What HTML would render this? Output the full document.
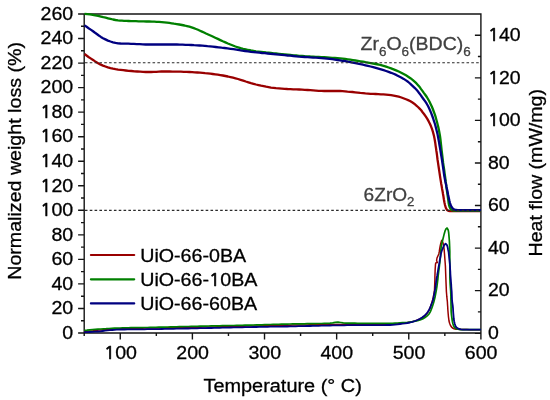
<!DOCTYPE html>
<html><head><meta charset="utf-8"><title>TGA / DSC of UiO-66</title>
<style>
html,body{margin:0;padding:0;background:#fff;}
body{width:550px;height:400px;overflow:hidden;}
svg{display:block;}
text{font-family:"Liberation Sans",sans-serif;font-size:19.1px;fill:#000;stroke:#000;stroke-width:0.3px;}
.g{fill:#404040;stroke:#404040;}
.sub{font-size:13.2px;}
.n1{font-family:"NanumGothic","Liberation Sans",sans-serif;font-size:17.9px;stroke-width:0.7px;}
.ax{stroke:#141414;stroke-width:1.4;fill:none;}
.c{fill:none;stroke-width:2.3;stroke-linejoin:round;stroke-linecap:butt;}
.h{fill:none;stroke-width:1.5;stroke-linejoin:round;stroke-linecap:butt;}
</style></head><body>
<svg width="550" height="400" viewBox="0 0 550 400">
<rect width="550" height="400" fill="#fff"/>
<path class="ax" d="M84.2,14.0V333.0H480.9V14.0Z M78.1,333.00H84.2 M81.0,320.73H84.2 M78.1,308.46H84.2 M81.0,296.19H84.2 M78.1,283.92H84.2 M81.0,271.65H84.2 M78.1,259.38H84.2 M81.0,247.12H84.2 M78.1,234.85H84.2 M81.0,222.58H84.2 M78.1,210.31H84.2 M81.0,198.04H84.2 M78.1,185.77H84.2 M81.0,173.50H84.2 M78.1,161.23H84.2 M81.0,148.96H84.2 M78.1,136.69H84.2 M81.0,124.42H84.2 M78.1,112.15H84.2 M81.0,99.88H84.2 M78.1,87.62H84.2 M81.0,75.35H84.2 M78.1,63.08H84.2 M81.0,50.81H84.2 M78.1,38.54H84.2 M81.0,26.27H84.2 M78.1,14.00H84.2 M84.20,333.0V336.0 M120.26,333.0V339.5 M156.33,333.0V336.0 M192.39,333.0V339.5 M228.45,333.0V336.0 M264.52,333.0V339.5 M300.58,333.0V336.0 M336.65,333.0V339.5 M372.71,333.0V336.0 M408.77,333.0V339.5 M444.84,333.0V336.0 M480.90,333.0V339.5 M474.9,333.20H480.9 M477.9,311.92H480.9 M474.9,290.64H480.9 M477.9,269.36H480.9 M474.9,248.08H480.9 M477.9,226.80H480.9 M474.9,205.52H480.9 M477.9,184.24H480.9 M474.9,162.96H480.9 M477.9,141.68H480.9 M474.9,120.40H480.9 M477.9,99.12H480.9 M474.9,77.84H480.9 M477.9,56.56H480.9 M474.9,35.28H480.9"/>
<path class="c" stroke="#990000" d="M84.5,54.0 L86.5,55.5 L88.5,57.0 L90.6,58.4 L92.7,59.8 L95.2,61.4 L97.7,62.9 L100.3,64.4 L103.0,65.6 L105.4,66.5 L107.9,67.4 L110.5,68.1 L113.0,68.7 L115.5,69.2 L118.1,69.6 L120.7,69.9 L123.2,70.2 L125.8,70.5 L128.7,70.8 L131.5,71.0 L134.4,71.3 L137.2,71.5 L140.1,71.7 L143.0,71.9 L145.8,72.0 L148.7,72.0 L151.2,72.0 L153.8,71.9 L156.3,71.8 L158.9,71.6 L161.4,71.5 L164.0,71.5 L166.8,71.5 L169.6,71.5 L172.5,71.6 L175.3,71.6 L178.1,71.7 L180.9,71.7 L183.8,71.8 L186.6,71.9 L189.4,72.0 L192.1,72.1 L194.7,72.3 L197.4,72.5 L200.0,72.7 L202.5,72.9 L205.1,73.2 L207.6,73.4 L210.2,73.7 L212.7,74.0 L215.2,74.3 L217.8,74.7 L220.3,75.1 L222.9,75.5 L225.4,76.0 L227.9,76.5 L230.5,77.1 L233.0,77.7 L235.5,78.3 L238.0,79.0 L240.6,79.8 L243.2,80.6 L245.8,81.5 L248.4,82.3 L251.0,83.1 L253.5,83.8 L256.0,84.5 L258.5,85.1 L261.1,85.7 L263.6,86.2 L266.1,86.7 L268.5,87.1 L271.0,87.6 L273.5,87.9 L276.0,88.2 L278.9,88.4 L281.8,88.6 L284.6,88.8 L287.5,89.0 L290.4,89.1 L293.3,89.3 L296.2,89.4 L299.1,89.5 L302.0,89.7 L304.8,89.9 L307.6,90.0 L310.3,90.2 L313.1,90.4 L315.9,90.6 L318.7,90.8 L321.4,90.9 L324.2,91.0 L327.0,91.0 L329.6,91.0 L332.2,91.0 L334.8,91.0 L337.4,91.0 L340.0,91.0 L342.5,91.1 L345.0,91.3 L347.5,91.6 L350.0,91.8 L352.6,92.0 L355.1,92.3 L357.7,92.6 L360.3,92.9 L362.9,93.1 L365.4,93.4 L368.0,93.6 L370.6,93.8 L373.1,93.9 L375.7,94.0 L378.3,94.1 L380.9,94.3 L383.4,94.4 L386.0,94.6 L388.6,94.9 L391.1,95.2 L393.7,95.6 L396.2,96.1 L398.7,96.7 L401.4,97.5 L404.0,98.5 L406.0,99.3 L408.1,100.1 L410.0,101.0 L412.1,102.3 L414.2,103.7 L416.1,105.3 L418.0,107.0 L419.6,108.6 L421.2,110.3 L422.6,112.2 L424.0,114.0 L425.7,116.4 L427.3,118.9 L428.7,121.4 L430.0,124.0 L431.0,126.3 L431.9,128.7 L432.7,131.1 L433.4,133.6 L434.0,136.0 L434.5,138.4 L434.9,140.8 L435.3,143.2 L435.6,145.6 L436.0,148.0 L436.3,150.4 L436.7,152.8 L437.0,155.2 L437.3,157.6 L437.6,160.0 L438.0,162.7 L438.4,165.3 L438.8,168.0 L439.2,170.7 L439.6,173.3 L440.0,176.0 L440.4,178.6 L440.8,181.1 L441.2,183.7 L441.7,186.3 L442.1,188.9 L442.6,191.4 L443.0,194.0 L443.5,196.8 L443.9,199.5 L444.4,202.3 L445.0,205.0 L445.8,207.8 L447.0,210.0 L448.3,210.8 L450.0,211.2 L452.7,211.2 L455.4,211.2 L458.1,211.2 L460.9,211.2 L463.6,211.2 L466.4,211.2 L469.2,211.2 L472.1,211.2 L475.0,211.2 L477.9,211.2 L480.9,211.2"/>
<path class="c" stroke="#008000" d="M84.5,13.8 L87.3,14.1 L90.0,14.4 L92.7,14.8 L95.3,15.3 L98.2,15.9 L101.0,16.6 L103.3,17.2 L105.7,17.7 L108.0,18.3 L110.5,18.9 L113.0,19.5 L115.5,20.0 L118.0,20.4 L120.0,20.6 L122.0,20.7 L124.0,20.8 L126.3,20.9 L128.7,21.0 L131.0,21.1 L133.5,21.2 L136.0,21.2 L138.6,21.3 L141.1,21.3 L143.6,21.4 L146.4,21.5 L149.2,21.5 L152.0,21.6 L154.3,21.7 L156.7,21.8 L159.0,21.9 L161.7,22.1 L164.3,22.3 L167.0,22.6 L169.3,22.9 L171.7,23.3 L174.0,23.7 L176.7,24.1 L179.3,24.5 L182.0,25.0 L184.5,25.5 L187.0,26.1 L189.4,26.7 L191.6,27.4 L193.8,28.2 L196.0,29.0 L198.0,29.8 L200.0,30.7 L202.0,31.6 L204.0,32.5 L206.0,33.5 L208.2,34.5 L210.5,35.5 L212.7,36.5 L215.2,37.7 L217.8,38.9 L220.3,40.1 L222.8,41.3 L225.4,42.4 L227.9,43.5 L230.4,44.5 L232.9,45.5 L235.4,46.5 L238.0,47.3 L240.6,48.1 L243.1,48.8 L245.8,49.4 L248.4,50.0 L251.0,50.5 L253.5,50.9 L256.0,51.3 L258.5,51.6 L261.1,51.9 L263.6,52.2 L266.1,52.5 L268.6,52.7 L271.0,53.0 L273.5,53.3 L276.0,53.5 L278.9,53.8 L281.8,54.1 L284.7,54.4 L287.5,54.7 L290.4,55.0 L293.3,55.3 L296.2,55.5 L299.1,55.8 L302.0,56.0 L304.8,56.2 L307.6,56.3 L310.3,56.5 L313.1,56.6 L315.9,56.8 L318.7,56.9 L321.4,57.1 L324.2,57.2 L327.0,57.4 L329.6,57.6 L332.2,57.8 L334.9,58.0 L337.5,58.2 L340.1,58.4 L342.7,58.7 L345.2,59.0 L347.8,59.3 L350.3,59.7 L352.9,60.1 L355.4,60.5 L357.9,60.9 L360.4,61.3 L363.0,61.7 L365.5,62.2 L368.0,62.6 L370.6,63.1 L373.2,63.5 L375.8,64.0 L378.4,64.5 L381.0,65.1 L383.6,65.8 L386.1,66.6 L388.6,67.5 L391.1,68.4 L393.6,69.4 L396.1,70.4 L398.7,71.5 L401.2,72.7 L403.6,74.0 L406.0,75.3 L408.2,76.7 L410.4,78.2 L412.6,79.9 L414.6,81.6 L416.5,83.4 L418.1,85.2 L419.7,87.1 L421.1,89.1 L422.6,91.1 L424.0,93.1 L425.4,95.0 L426.8,97.0 L428.0,99.0 L429.4,101.5 L430.7,104.2 L431.9,106.8 L433.0,109.5 L433.9,112.0 L434.8,114.4 L435.6,116.9 L436.3,119.5 L437.0,122.0 L437.7,124.8 L438.4,127.6 L439.0,130.4 L439.5,133.2 L440.0,136.0 L440.4,138.8 L440.7,141.6 L441.0,144.4 L441.3,147.2 L441.6,150.0 L441.9,152.5 L442.2,155.0 L442.5,157.5 L442.8,160.0 L443.1,162.7 L443.5,165.3 L443.9,168.0 L444.3,170.7 L444.6,173.3 L445.0,176.0 L445.4,178.8 L445.7,181.5 L446.1,184.3 L446.4,187.0 L446.8,189.8 L447.2,192.5 L447.6,195.3 L448.0,198.0 L448.3,200.3 L448.6,202.7 L449.0,204.9 L449.6,207.0 L450.7,209.1 L452.4,210.4 L454.1,210.5 L456.0,210.6 L458.8,210.6 L461.5,210.6 L464.3,210.6 L467.1,210.6 L469.8,210.6 L472.6,210.6 L475.4,210.6 L478.1,210.6 L480.9,210.6"/>
<path class="c" stroke="#000080" d="M84.5,25.4 L86.6,26.8 L88.6,28.2 L90.7,29.6 L92.7,31.0 L94.7,32.5 L96.8,34.0 L98.8,35.5 L100.9,36.9 L103.0,38.2 L105.4,39.4 L107.9,40.6 L110.5,41.5 L113.0,42.3 L115.5,42.9 L118.0,43.3 L120.6,43.5 L123.2,43.6 L125.8,43.6 L128.4,43.7 L131.0,43.8 L133.9,43.9 L136.9,44.1 L139.8,44.2 L142.8,44.4 L145.7,44.5 L148.7,44.5 L151.5,44.5 L154.3,44.5 L157.1,44.5 L159.9,44.5 L162.8,44.5 L165.6,44.5 L168.4,44.5 L171.2,44.5 L174.0,44.5 L176.9,44.5 L179.8,44.6 L182.6,44.6 L185.5,44.8 L188.4,44.9 L191.3,45.0 L194.1,45.2 L197.0,45.3 L199.6,45.5 L202.2,45.7 L204.9,45.9 L207.5,46.2 L210.1,46.4 L212.7,46.7 L215.7,47.0 L218.6,47.3 L221.6,47.7 L224.6,48.0 L227.5,48.4 L230.5,48.8 L233.4,49.2 L236.4,49.6 L239.3,50.1 L242.2,50.6 L245.1,51.0 L248.1,51.4 L251.0,51.8 L253.8,52.1 L256.5,52.4 L259.3,52.7 L262.1,53.0 L264.9,53.2 L267.7,53.5 L270.4,53.8 L273.2,54.0 L276.0,54.3 L278.9,54.6 L281.8,54.9 L284.7,55.2 L287.6,55.5 L290.4,55.7 L293.3,56.0 L296.2,56.3 L299.1,56.6 L302.0,56.8 L304.8,57.0 L307.6,57.2 L310.3,57.4 L313.1,57.6 L315.9,57.7 L318.7,57.9 L321.5,58.1 L324.2,58.3 L327.0,58.6 L329.6,58.9 L332.2,59.2 L334.9,59.6 L337.5,60.0 L340.1,60.4 L342.7,60.8 L345.2,61.2 L347.8,61.7 L350.3,62.1 L352.9,62.6 L355.4,63.1 L357.9,63.6 L360.5,64.2 L363.0,64.7 L365.5,65.3 L368.0,65.9 L370.6,66.5 L373.2,67.2 L375.8,67.9 L378.4,68.6 L381.0,69.4 L383.6,70.2 L386.1,71.0 L388.6,71.9 L391.1,72.8 L393.6,73.8 L396.2,74.9 L398.7,76.2 L401.2,77.5 L403.7,78.9 L406.0,80.4 L408.3,82.0 L410.4,83.8 L412.5,85.8 L414.6,87.8 L416.5,89.8 L418.0,91.5 L419.3,93.3 L420.7,95.1 L422.0,97.0 L423.6,99.2 L425.2,101.4 L426.7,103.7 L428.0,106.0 L429.1,108.3 L430.2,110.7 L431.2,113.1 L432.1,115.5 L433.0,118.0 L433.9,120.8 L434.8,123.5 L435.6,126.4 L436.3,129.2 L437.0,132.0 L437.6,134.6 L438.1,137.3 L438.6,140.0 L439.1,142.6 L439.5,145.3 L440.0,148.0 L440.4,150.4 L440.8,152.8 L441.2,155.2 L441.6,157.6 L442.0,160.0 L442.4,162.8 L442.8,165.6 L443.2,168.4 L443.6,171.2 L444.0,174.0 L444.4,176.6 L444.9,179.2 L445.4,181.7 L446.0,184.3 L446.5,186.9 L447.1,189.4 L447.6,192.0 L448.1,194.8 L448.7,197.6 L449.3,200.3 L450.0,203.0 L451.0,205.9 L452.4,208.2 L454.0,209.4 L456.0,210.0 L457.9,210.1 L460.0,210.2 L462.0,210.2 L464.7,210.2 L467.4,210.2 L470.1,210.2 L472.8,210.2 L475.5,210.2 L478.2,210.2 L480.9,210.2"/>
<path class="h" stroke="#990000" d="M84.2,331.5 L87.1,331.2 L90.0,330.9 L92.9,330.7 L95.8,330.4 L98.7,330.1 L101.6,329.9 L104.5,329.6 L107.4,329.4 L110.3,329.2 L113.2,329.1 L116.1,328.9 L119.0,328.8 L121.9,328.7 L124.8,328.6 L127.7,328.5 L130.6,328.5 L133.4,328.4 L136.3,328.3 L139.2,328.2 L142.1,328.2 L145.0,328.1 L147.9,328.1 L150.8,328.0 L153.7,328.0 L156.6,327.9 L159.5,327.9 L162.4,327.8 L165.3,327.8 L168.2,327.7 L171.1,327.7 L174.0,327.6 L176.8,327.6 L179.7,327.6 L182.6,327.5 L185.5,327.5 L188.4,327.4 L191.3,327.4 L194.2,327.3 L197.1,327.3 L200.0,327.2 L202.9,327.1 L205.8,327.1 L208.7,327.0 L211.6,326.9 L214.5,326.9 L217.4,326.8 L220.3,326.7 L223.2,326.7 L226.1,326.6 L229.0,326.5 L231.9,326.5 L234.8,326.4 L237.7,326.3 L240.6,326.3 L243.5,326.2 L246.5,326.1 L249.4,326.1 L252.3,326.0 L255.2,325.9 L258.1,325.9 L261.0,325.8 L263.9,325.7 L266.8,325.7 L269.7,325.6 L272.6,325.5 L275.5,325.5 L278.4,325.4 L281.3,325.4 L284.2,325.3 L287.1,325.3 L290.0,325.2 L292.9,325.1 L295.7,325.1 L298.6,325.0 L301.4,325.0 L304.3,324.9 L307.1,324.9 L310.0,324.8 L312.9,324.8 L315.7,324.7 L318.6,324.7 L321.4,324.6 L324.3,324.6 L327.1,324.5 L330.0,324.5 L332.9,324.5 L335.7,324.4 L338.6,324.4 L341.4,324.4 L344.3,324.3 L347.1,324.3 L350.0,324.3 L352.9,324.3 L355.7,324.3 L358.6,324.3 L361.4,324.3 L364.3,324.3 L367.2,324.3 L370.0,324.3 L372.9,324.3 L375.7,324.3 L378.6,324.2 L381.4,324.2 L384.3,324.2 L387.1,324.2 L390.0,324.2 L392.5,324.1 L395.0,323.9 L397.5,323.7 L400.0,323.4 L402.5,323.2 L405.0,322.9 L407.5,322.6 L410.0,322.2 L412.6,321.6 L415.1,320.9 L417.6,320.0 L420.0,319.0 L422.6,317.7 L425.0,316.0 L426.6,314.1 L428.0,312.0 L429.1,310.0 L430.0,308.0 L430.7,306.0 L431.4,304.0 L432.0,302.0 L432.6,300.0 L433.1,298.0 L433.5,296.0 L433.9,294.0 L434.3,292.0 L434.5,290.0 L434.6,287.3 L434.7,284.7 L434.8,282.0 L434.9,279.3 L434.9,276.7 L435.0,274.0 L435.1,271.3 L435.2,268.7 L435.4,266.0 L435.5,264.3 L435.7,263.0 L437.3,262.6 L436.6,260.5 L437.0,258.0 L437.9,256.0 L438.8,254.0 L439.3,251.4 L439.7,248.7 L440.2,246.0 L440.7,243.6 L441.4,241.2 L441.8,240.4 L443.0,242.8 L443.5,245.1 L443.9,247.6 L444.2,250.0 L444.4,252.7 L444.6,255.3 L444.8,258.0 L445.0,260.7 L445.2,263.3 L445.4,266.0 L445.5,268.7 L445.6,271.3 L445.7,274.0 L445.8,276.7 L445.9,279.3 L446.0,282.0 L446.1,284.4 L446.2,286.8 L446.3,289.2 L446.4,291.6 L446.6,294.0 L446.8,296.7 L447.1,299.3 L447.4,302.0 L447.5,304.3 L447.7,306.7 L447.8,309.0 L448.0,311.5 L448.2,314.0 L448.4,316.3 L448.7,318.7 L449.0,321.0 L449.6,323.3 L450.5,325.5 L451.4,326.9 L452.5,328.0 L454.1,328.8 L456.0,329.2 L458.7,329.3 L461.4,329.5 L464.1,329.6 L466.8,329.6 L469.6,329.7 L472.4,329.7 L475.2,329.8 L478.0,329.8 L480.9,329.8"/>
<path class="h" stroke="#008000" style="stroke-width:1.7" d="M84.2,330.3 L87.0,330.1 L89.7,329.8 L92.5,329.6 L95.2,329.4 L98.0,329.2 L100.7,329.0 L103.5,328.8 L106.2,328.7 L109.0,328.5 L111.7,328.3 L114.5,328.2 L117.2,328.1 L120.0,328.0 L122.7,327.9 L125.5,327.9 L128.2,327.8 L130.9,327.7 L133.6,327.7 L136.4,327.6 L139.1,327.6 L141.8,327.6 L144.5,327.5 L147.3,327.5 L150.0,327.4 L152.9,327.3 L155.9,327.3 L158.8,327.2 L161.8,327.1 L164.7,327.1 L167.6,327.0 L170.6,326.9 L173.5,326.8 L176.5,326.8 L179.4,326.7 L182.4,326.6 L185.3,326.6 L188.2,326.5 L191.2,326.4 L194.1,326.3 L197.1,326.3 L200.0,326.2 L202.8,326.1 L205.6,326.1 L208.4,326.0 L211.2,325.9 L214.1,325.9 L216.9,325.8 L219.7,325.8 L222.5,325.7 L225.3,325.6 L228.1,325.6 L230.9,325.5 L233.8,325.5 L236.6,325.4 L239.4,325.3 L242.2,325.3 L245.0,325.2 L247.8,325.1 L250.6,325.1 L253.4,325.0 L256.3,324.9 L259.1,324.8 L261.9,324.8 L264.7,324.7 L267.5,324.6 L270.3,324.5 L273.1,324.4 L275.9,324.4 L278.7,324.3 L281.6,324.2 L284.4,324.1 L287.2,324.1 L290.0,324.0 L292.9,323.9 L295.7,323.9 L298.6,323.8 L301.4,323.8 L304.3,323.8 L307.2,323.7 L310.0,323.7 L312.9,323.6 L315.7,323.6 L318.6,323.5 L321.5,323.5 L324.3,323.4 L327.2,323.3 L330.0,323.2 L332.7,322.9 L335.3,322.4 L338.0,322.2 L340.7,322.5 L343.3,322.9 L346.0,323.2 L348.9,323.2 L351.8,323.2 L354.8,323.2 L357.7,323.3 L360.6,323.3 L363.6,323.3 L366.5,323.3 L369.4,323.3 L372.4,323.3 L375.3,323.3 L378.3,323.3 L381.2,323.3 L384.1,323.3 L387.1,323.3 L390.0,323.3 L392.5,323.3 L395.0,323.1 L397.5,323.0 L400.0,322.8 L402.5,322.6 L405.0,322.5 L407.5,322.3 L410.0,322.0 L412.5,321.7 L415.1,321.2 L417.6,320.7 L420.0,320.0 L422.6,318.9 L425.0,317.5 L427.2,315.9 L429.0,314.0 L430.4,311.6 L431.5,309.0 L432.4,306.5 L433.2,304.0 L433.8,302.0 L434.5,299.3 L435.1,296.7 L435.6,294.0 L436.1,291.3 L436.6,288.7 L437.0,286.0 L437.3,283.6 L437.6,281.2 L437.9,278.8 L438.1,276.4 L438.4,274.0 L438.7,271.3 L439.1,268.7 L439.4,266.0 L439.7,263.3 L440.0,260.7 L440.3,258.0 L440.5,255.6 L440.6,253.2 L440.8,250.8 L441.0,248.4 L441.3,246.0 L441.8,243.6 L442.4,241.2 L443.0,238.8 L443.6,236.4 L444.2,233.9 L444.9,231.4 L445.8,229.2 L447.0,228.0 L448.2,230.0 L448.6,232.1 L448.8,234.2 L449.0,236.4 L449.2,238.8 L449.4,241.2 L449.5,243.6 L449.6,246.0 L449.7,248.7 L449.8,251.3 L449.8,254.0 L449.8,256.7 L449.8,259.3 L449.8,262.0 L449.8,264.7 L449.9,267.3 L449.9,270.0 L449.9,272.7 L449.9,275.3 L449.9,278.0 L450.0,280.7 L450.1,283.3 L450.3,286.0 L450.5,288.7 L450.7,291.3 L450.8,294.0 L450.9,296.5 L450.9,299.0 L451.0,301.5 L451.0,304.0 L451.1,306.7 L451.1,309.3 L451.2,312.0 L451.4,314.3 L451.7,316.7 L452.0,319.0 L452.4,321.5 L453.0,324.0 L453.6,325.9 L454.5,327.5 L457.0,329.0 L459.0,329.4 L461.0,329.6 L463.8,329.6 L466.7,329.7 L469.5,329.7 L472.3,329.7 L475.2,329.7 L478.0,329.7 L480.9,329.7"/>
<path class="h" stroke="#000080" style="stroke-width:1.8" d="M84.2,332.2 L87.0,332.1 L89.7,332.0 L92.5,331.9 L95.2,331.7 L98.0,331.5 L100.4,331.3 L102.8,331.0 L105.2,330.7 L107.6,330.4 L110.0,330.2 L112.2,330.0 L114.5,329.8 L116.7,329.7 L119.0,329.6 L121.8,329.5 L124.6,329.5 L127.4,329.4 L130.3,329.4 L133.1,329.4 L135.9,329.4 L138.7,329.3 L141.5,329.3 L144.4,329.3 L147.2,329.2 L150.0,329.2 L152.9,329.2 L155.9,329.1 L158.8,329.1 L161.8,329.0 L164.7,328.9 L167.6,328.9 L170.6,328.8 L173.5,328.8 L176.5,328.7 L179.4,328.6 L182.4,328.6 L185.3,328.5 L188.2,328.5 L191.2,328.4 L194.1,328.3 L197.1,328.3 L200.0,328.2 L202.8,328.1 L205.6,328.1 L208.4,328.0 L211.3,328.0 L214.1,327.9 L216.9,327.8 L219.7,327.8 L222.5,327.7 L225.3,327.6 L228.1,327.6 L230.9,327.5 L233.7,327.4 L236.6,327.4 L239.4,327.3 L242.2,327.3 L245.0,327.2 L247.8,327.1 L250.6,327.1 L253.4,327.0 L256.2,327.0 L259.1,326.9 L261.9,326.9 L264.7,326.8 L267.5,326.8 L270.3,326.7 L273.1,326.7 L275.9,326.7 L278.8,326.6 L281.6,326.6 L284.4,326.5 L287.2,326.5 L290.0,326.4 L292.9,326.3 L295.7,326.3 L298.6,326.2 L301.4,326.2 L304.3,326.1 L307.1,326.0 L310.0,326.0 L312.9,325.9 L315.7,325.8 L318.6,325.8 L321.4,325.7 L324.3,325.6 L327.1,325.6 L330.0,325.5 L332.9,325.4 L335.7,325.4 L338.6,325.3 L341.4,325.3 L344.3,325.3 L347.1,325.2 L350.0,325.2 L352.9,325.2 L355.7,325.2 L358.6,325.2 L361.4,325.1 L364.3,325.1 L367.2,325.1 L370.0,325.1 L372.9,325.1 L375.7,325.1 L378.6,325.1 L381.4,325.1 L384.3,325.1 L387.2,325.0 L390.0,325.0 L392.5,324.9 L395.0,324.6 L397.5,324.3 L400.0,324.0 L402.5,323.7 L405.0,323.4 L407.5,323.0 L410.0,322.5 L412.5,321.8 L415.0,321.0 L417.5,320.0 L420.0,318.8 L422.1,317.5 L424.0,316.0 L425.6,314.6 L427.0,313.0 L428.1,311.5 L429.0,310.0 L429.8,308.5 L430.5,307.0 L431.0,305.5 L431.5,304.0 L432.4,302.0 L433.1,299.4 L433.7,296.7 L434.2,294.0 L434.7,291.3 L435.2,288.7 L435.6,286.0 L435.9,284.0 L436.1,282.0 L436.4,280.0 L436.7,278.0 L437.1,276.0 L437.4,274.0 L437.9,271.3 L438.3,268.7 L438.8,266.0 L439.3,263.3 L439.7,260.7 L440.2,258.0 L440.6,256.0 L440.9,254.0 L441.4,252.0 L442.0,250.2 L442.8,248.4 L443.4,246.8 L444.2,245.2 L445.6,243.6 L447.0,245.2 L447.6,247.1 L448.0,249.2 L448.6,252.0 L448.8,254.0 L449.0,256.0 L449.2,258.0 L449.5,260.7 L449.8,263.3 L450.0,266.0 L450.1,268.7 L450.3,271.3 L450.4,274.0 L450.6,276.7 L450.8,279.3 L451.0,282.0 L451.2,284.4 L451.3,286.8 L451.5,289.2 L451.7,291.6 L451.8,294.0 L451.9,296.7 L452.0,299.3 L452.2,302.0 L452.5,304.0 L452.8,306.0 L453.0,308.0 L453.1,310.0 L453.2,312.0 L453.4,314.3 L453.6,316.7 L453.8,319.0 L454.2,321.5 L454.8,324.0 L455.5,325.9 L456.5,327.5 L459.0,329.0 L461.0,329.4 L463.0,329.6 L466.0,329.6 L468.9,329.6 L471.9,329.6 L474.9,329.6 L477.9,329.6 L480.9,329.6"/>
<line x1="84.9" y1="62.7" x2="480.9" y2="62.7" stroke="#2a2a2a" stroke-width="1.15" stroke-dasharray="2.6 2.23"/>
<line x1="84.9" y1="210.4" x2="480.9" y2="210.4" stroke="#2a2a2a" stroke-width="1.15" stroke-dasharray="2.6 2.23"/>
<text transform="translate(73.2,338.7) scale(1.025,1)" text-anchor="end">0</text>
<text transform="translate(73.2,314.2) scale(1.025,1)" text-anchor="end">20</text>
<text transform="translate(73.2,289.6) scale(1.025,1)" text-anchor="end">40</text>
<text transform="translate(73.2,265.1) scale(1.025,1)" text-anchor="end">60</text>
<text transform="translate(73.2,240.5) scale(1.025,1)" text-anchor="end">80</text>
<text transform="translate(73.2,216.0) scale(1.025,1)" text-anchor="end"><tspan class="n1">1</tspan>00</text>
<text transform="translate(73.2,191.5) scale(1.025,1)" text-anchor="end"><tspan class="n1">1</tspan>20</text>
<text transform="translate(73.2,166.9) scale(1.025,1)" text-anchor="end"><tspan class="n1">1</tspan>40</text>
<text transform="translate(73.2,142.4) scale(1.025,1)" text-anchor="end"><tspan class="n1">1</tspan>60</text>
<text transform="translate(73.2,117.9) scale(1.025,1)" text-anchor="end"><tspan class="n1">1</tspan>80</text>
<text transform="translate(73.2,93.3) scale(1.025,1)" text-anchor="end">200</text>
<text transform="translate(73.2,68.8) scale(1.025,1)" text-anchor="end">220</text>
<text transform="translate(73.2,44.2) scale(1.025,1)" text-anchor="end">240</text>
<text transform="translate(73.2,19.7) scale(1.025,1)" text-anchor="end">260</text>
<text transform="translate(120.5,359.3) scale(1.025,1)" text-anchor="middle"><tspan class="n1">1</tspan>00</text>
<text transform="translate(192.6,359.3) scale(1.025,1)" text-anchor="middle">200</text>
<text transform="translate(264.7,359.3) scale(1.025,1)" text-anchor="middle">300</text>
<text transform="translate(336.8,359.3) scale(1.025,1)" text-anchor="middle">400</text>
<text transform="translate(409.0,359.3) scale(1.025,1)" text-anchor="middle">500</text>
<text transform="translate(481.1,359.3) scale(1.025,1)" text-anchor="middle">600</text>
<text transform="translate(487.9,339.0) scale(1.02,1)">0</text>
<text transform="translate(487.9,296.4) scale(1.02,1)">20</text>
<text transform="translate(487.9,253.9) scale(1.02,1)">40</text>
<text transform="translate(487.9,211.3) scale(1.02,1)">60</text>
<text transform="translate(487.9,168.8) scale(1.02,1)">80</text>
<text transform="translate(487.9,126.2) scale(1.02,1)"><tspan class="n1">1</tspan>00</text>
<text transform="translate(487.9,83.6) scale(1.02,1)"><tspan class="n1">1</tspan>20</text>
<text transform="translate(487.9,41.1) scale(1.02,1)"><tspan class="n1">1</tspan>40</text>
<text transform="translate(282.6,392.4) scale(1.042,1)" text-anchor="middle">Temperature (° C)</text>
<text transform="translate(21.0,160.9) rotate(-90) scale(1.028,1)" text-anchor="middle">Normalized weight loss (%)</text>
<text transform="translate(542.0,172.7) rotate(-90) scale(1.025,1)" text-anchor="middle">Heat flow (mW/mg)</text>
<text transform="translate(360.5,50.4) scale(1.022,1)" class="g">Zr<tspan class="sub" dy="5.6">6</tspan><tspan dy="-5.6">O</tspan><tspan class="sub" dy="5.6">6</tspan><tspan dy="-5.6">(BDC)</tspan><tspan class="sub" dy="5.6">6</tspan></text>
<text transform="translate(363.6,201.0) scale(1.0,1)" class="g">6ZrO<tspan class="sub" dy="5.4">2</tspan></text>
<line x1="90.9" y1="255" x2="134.2" y2="255" stroke="#990000" stroke-width="2.2" stroke-linecap="round"/>
<text transform="translate(140.2,261.8) scale(1.03,1)">UiO-66-0BA</text>
<line x1="90.9" y1="279.3" x2="134.2" y2="279.3" stroke="#008000" stroke-width="2.2" stroke-linecap="round"/>
<text transform="translate(140.2,286.1) scale(1.03,1)">UiO-66-<tspan class="n1">1</tspan>0BA</text>
<line x1="90.9" y1="303.4" x2="134.2" y2="303.4" stroke="#000080" stroke-width="2.2" stroke-linecap="round"/>
<text transform="translate(140.2,310.2) scale(1.03,1)">UiO-66-60BA</text>
</svg></body></html>
